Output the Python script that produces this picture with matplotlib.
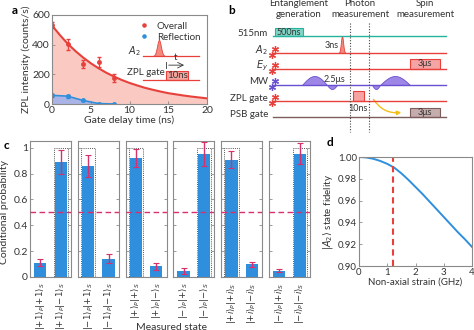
import numpy as np
import matplotlib
matplotlib.use("Agg")
import matplotlib.pyplot as plt
from matplotlib.patches import Rectangle, FancyArrowPatch

plt.rcParams["font.family"] = ["Lato", "DejaVu Sans"]
plt.rcParams["mathtext.fontset"] = "dejavusans"

W, H = 474, 330
fig = plt.figure(figsize=(W / 100, H / 100), dpi=100)


def px_axes(x0, y0, x1, y1):
    """Axes placed by pixel box (origin top-left)."""
    return fig.add_axes([x0 / W, 1 - y1 / H, (x1 - x0) / W, (y1 - y0) / H])


GRAY = "#8a8a8a"
RED = "#e8413c"
BLUE = "#2f8fdc"
TEAL = "#26b39b"
PURPLE = "#6a4fd0"
BROWN = "#7d5c5c"
MAGENTA = "#d8306e"
TXT = "#333333"

# ---------------- panel a data ----------------
delay = [0, 2, 4, 6, 8]
overall = [533, 402, 270, 283, 175]
overall_err = [22, 38, 30, 32, 25]
reflection = [58, 53, 24, 3, 0]
reflection_err = [10, 10, 6, 4, 3]
fit_time = list(range(0, 21))
fit_overall = [530, 466, 408, 358, 314, 275, 241, 211, 185, 162, 142,
               125, 109, 96, 84, 73, 65, 57, 50, 44, 38]

# ---------------- panel c data ----------------
state_labels = [
    [r"$|{+1}\rangle_P|{+1}\rangle_S$", r"$|{+1}\rangle_P|{-1}\rangle_S$"],
    [r"$|{-1}\rangle_P|{+1}\rangle_S$", r"$|{-1}\rangle_P|{-1}\rangle_S$"],
    [r"$|{+}\rangle_P|{+}\rangle_S$", r"$|{+}\rangle_P|{-}\rangle_S$"],
    [r"$|{-}\rangle_P|{+}\rangle_S$", r"$|{-}\rangle_P|{-}\rangle_S$"],
    [r"$|{+i}\rangle_P|{+i}\rangle_S$", r"$|{+i}\rangle_P|{-i}\rangle_S$"],
    [r"$|{-i}\rangle_P|{+i}\rangle_S$", r"$|{-i}\rangle_P|{-i}\rangle_S$"],
]
cond_prob = [[0.11, 0.89], [0.858, 0.142], [0.918, 0.083],
             [0.047, 0.951], [0.907, 0.098], [0.05, 0.953]]
cond_err = [[0.028, 0.09], [0.088, 0.035], [0.07, 0.026],
            [0.022, 0.09], [0.065, 0.02], [0.012, 0.08]]
ideal_prob = [[0, 1], [1, 0], [1, 0], [0, 1], [1, 0], [0, 1]]

# ---------------- panel d data ----------------
strain = [0, 0.25, 0.5, 0.75, 1.0, 1.25, 1.5, 1.75, 2.0, 2.25, 2.5,
          2.75, 3.0, 3.25, 3.5, 3.75, 4.0]
fidelity = [1.0, 0.9996, 0.9984, 0.9964, 0.9937, 0.9902, 0.985, 0.979,
            0.9725, 0.966, 0.959, 0.952, 0.945, 0.938, 0.931, 0.9245, 0.9175]
strain_marker = 1.2


def style_axes(ax, fs=7):
    for s in ax.spines.values():
        s.set_color(GRAY)
        s.set_linewidth(0.8)
    ax.tick_params(direction="in", length=2.5, width=0.6, colors=GRAY,
                   labelcolor=TXT, labelsize=fs, pad=1.5)


# ================= panel a =================
ax_a = px_axes(52, 15, 207, 104)
ax_a.fill_between(fit_time, fit_overall, 0, color="#f9c9c2", lw=0)
ax_a.fill_between(delay, reflection, 0, color="#aab3e6", lw=0)
ax_a.plot(fit_time, fit_overall, color=RED, lw=1.5)
ax_a.plot(delay, reflection, color=BLUE, lw=1.2)
ax_a.errorbar(delay, overall, yerr=overall_err, fmt="o", ms=2.5,
              color=RED, ecolor=RED, elinewidth=0.9, capsize=1.5,
              label="Overall")
ax_a.errorbar(delay, reflection, yerr=reflection_err, fmt="o", ms=2.5,
              color=BLUE, ecolor=BLUE, elinewidth=0.9, capsize=1.5,
              label="Reflection")
ax_a.set_xlim(0, 20)
ax_a.set_ylim(0, 600)
ax_a.set_xticks([0, 5, 10, 15, 20])
ax_a.set_yticks([0, 200, 400, 600])
style_axes(ax_a, 7.5)
ax_a.set_xlabel("Gate delay time (ns)", fontsize=7.5, color=TXT, labelpad=0)
ax_a.set_ylabel("ZPL intensity (counts/s)", fontsize=7.5, color=TXT,
                labelpad=1)
handles, labels = ax_a.get_legend_handles_labels()
leg = ax_a.legend([h[0] for h in handles], labels, loc="upper right",
                  frameon=False, fontsize=7, handlelength=1.0,
                  handletextpad=0.8, borderaxespad=0.3, labelspacing=0.2,
                  markerscale=0.9)
for t in leg.get_texts():
    t.set_color(TXT)

# pulse-timing inset inside panel a
g_t = np.linspace(12.8, 14.8, 60)
ax_a.plot([11.7, 19.0], [324, 324], color=RED, lw=0.9)
ax_a.fill_between(g_t, 324 + 108 * np.exp(-((g_t - 13.8) / 0.35) ** 2), 324,
                  color="#f28a80", edgecolor=RED, lw=0.6)
ax_a.text(11.4, 360, "$A_2$", fontsize=7, color=TXT, ha="right", va="center")
ax_a.plot([11.7, 19.0], [162, 162], color=RED, lw=0.9)
ax_a.add_patch(Rectangle((14.7, 162), 2.9, 62, facecolor="#f4a49c",
                         edgecolor=RED, lw=0.8))
ax_a.text(14.8, 190, "10ns", fontsize=7, color=TXT, ha="left", va="center")
ax_a.text(14.5, 213, "ZPL gate", fontsize=7, color=TXT, ha="right",
          va="center")
ax_a.annotate("", xy=(17.4, 262), xytext=(14.7, 262),
              arrowprops=dict(arrowstyle="->", color=TXT, lw=0.6))
ax_a.plot([14.7, 14.7], [240, 280], color=TXT, lw=0.6)
ax_a.text(15.9, 282, "t", fontsize=7, color=TXT, ha="center", va="bottom")

# ================= panel b =================
ax_b = px_axes(228, 0, 474, 135)
ax_b.set_xlim(228, 474)
ax_b.set_ylim(135, 0)
ax_b.axis("off")

row_names = ["515nm", "$A_2$", "$E_y$", "MW", "ZPL gate", "PSB gate"]
row_y = [36, 53, 69, 85, 101, 117]
row_col = [TEAL, RED, RED, PURPLE, RED, BROWN]
for name, y, c in zip(row_names, row_y, row_col):
    ax_b.plot([273, 446], [y, y], color=c, lw=1.0)
    ax_b.text(268, y - 3, name, fontsize=7, color=TXT, ha="right",
              va="center")
# excitation stars
for y, c in zip(row_y[1:5], row_col[1:5]):
    ax_b.plot([275, 272], [y - 4, y + 2], ls="none", marker=(6, 2, 0),
              ms=5, mew=0.9, color=c)

ax_b.text(299, 9, "Entanglement\ngeneration", fontsize=7, color=TXT,
          ha="center", va="center", linespacing=1.2)
ax_b.text(360, 9, "Photon\nmeasurement", fontsize=7, color=TXT,
          ha="center", va="center", linespacing=1.2)
ax_b.text(425, 9, "Spin\nmeasurement", fontsize=7, color=TXT,
          ha="center", va="center", linespacing=1.2)
for xv in (350, 369):
    ax_b.plot([xv, xv], [23, 132], color="#444444", lw=0.8, ls=(0, (1, 1.5)))

# 515 nm pulse
ax_b.add_patch(Rectangle((275, 28), 28, 8, facecolor="#7fd6c6",
                         edgecolor=TEAL, lw=0.8))
ax_b.text(289, 32.5, "500ns", fontsize=6.5, color=TXT, ha="center",
          va="center")
# A2 optical pi pulse
gx = np.linspace(337, 347, 50)
ax_b.fill_between(gx, 53 - 17 * np.exp(-((gx - 342) / 1.6) ** 2), 53,
                  color="#f28a80", edgecolor=RED, lw=0.6)
ax_b.text(332, 46, "3ns", fontsize=6.5, color=TXT, ha="center", va="center")
# Ey readout
ax_b.add_patch(Rectangle((410, 59), 30, 10, facecolor="#f6a3a3",
                         edgecolor=RED, lw=0.8))
ax_b.text(425, 64, "3μs", fontsize=6.5, color=TXT, ha="center", va="center")
# MW pulses
m1 = np.linspace(302, 327, 60)
m2 = np.linspace(327, 337, 30)
m3 = np.linspace(372, 380, 30)
m4 = np.linspace(380, 410, 60)
for xs, x0, x1, amp in ((m1, 302, 327, -9), (m2, 327, 337, 4),
                        (m3, 372, 380, 4), (m4, 380, 410, -9)):
    ys = 85 + amp * np.sin(np.pi * (xs - x0) / (x1 - x0))
    ax_b.fill_between(xs, ys, 85, color="#9d86e6", edgecolor=PURPLE, lw=0.6)
ax_b.text(334, 80, "2.5μs", fontsize=6.5, color=TXT, ha="center",
          va="center")
# ZPL gate
ax_b.add_patch(Rectangle((353, 91), 11, 10, facecolor="#f6a3a3",
                         edgecolor=RED, lw=0.8))
ax_b.text(358, 108, "10ns", fontsize=6.5, color=TXT, ha="center",
          va="center")
# feed-forward arrow
ax_b.add_patch(FancyArrowPatch((372, 97), (404, 112),
                               connectionstyle="arc3,rad=0.35",
                               arrowstyle="-|>", mutation_scale=6,
                               color="#f2bf1a", lw=1.0))
# PSB gate
ax_b.add_patch(Rectangle((410, 108), 30, 9, facecolor="#c6adad",
                         edgecolor=BROWN, lw=0.8))
ax_b.text(425, 112.5, "3μs", fontsize=6.5, color=TXT, ha="center",
          va="center")

# ================= panel c =================
ax_c = []
for i in range(6):
    x0 = 30 + i * 47.8
    ax = px_axes(x0, 141, x0 + 41, 277)
    pos = [0, 1]
    ax.bar(pos, ideal_prob[i], width=0.7, fill=False, edgecolor="#555555",
           lw=0.7, ls=(0, (1, 1.2)), zorder=3)
    ax.bar(pos, cond_prob[i], width=0.6, color=BLUE, zorder=2)
    ax.axhline(0.5, color=MAGENTA, lw=1.0, ls=(0, (4, 2.5)), zorder=4)
    ax.errorbar(pos, cond_prob[i], yerr=cond_err[i], fmt="none",
                ecolor=MAGENTA, elinewidth=1.0, capsize=2, capthick=0.8,
                zorder=5)
    ax.set_xlim(-0.5, 1.5)
    ax.set_ylim(0, 1.052)
    ax.set_yticks([0, 0.2, 0.4, 0.6, 0.8, 1.0])
    ax.set_xticks(pos)
    ax.set_xticklabels(state_labels[i], rotation=90, color=TXT)
    style_axes(ax, 7.5)
    ax.tick_params(axis="x", length=0, pad=4, labelsize=6.2)
    ax.tick_params(axis="y", right=True)
    if i == 0:
        ax.set_yticklabels(["0", "0.2", "0.4", "0.6", "0.8", "1"])
    else:
        ax.set_yticklabels([])
    ax_c.append(ax)
fig.text(5 / W, 1 - 212 / H, "Conditional probability", rotation=90,
         fontsize=7.5, color=TXT, ha="center", va="center")
fig.text(172 / W, 1 - 327 / H, "Measured state", fontsize=7.5, color=TXT,
         ha="center", va="center")

# ================= panel d =================
ax_d = px_axes(359, 157, 472, 266)
ax_d.plot(strain, fidelity, color=BLUE, lw=1.4)
ax_d.plot([strain_marker, strain_marker], [0.90, 1.0], color=RED, lw=1.5,
          ls=(0, (3, 2)))
ax_d.set_xlim(0, 4)
ax_d.set_ylim(0.90, 1.00)
ax_d.set_xticks([0, 1, 2, 3, 4])
ax_d.set_yticks([0.90, 0.92, 0.94, 0.96, 0.98, 1.00])
ax_d.set_yticklabels(["0.90", "0.92", "0.94", "0.96", "0.98", "1.00"])
style_axes(ax_d, 7)
ax_d.set_xlabel("Non-axial strain (GHz)", fontsize=7, color=TXT, labelpad=0)
ax_d.set_ylabel(r"$|A_2\rangle$ state fidelity", fontsize=7, color=TXT,
                labelpad=2)

# panel letters
for lab, (px, py) in zip("abcd", [(15, 11), (232, 11), (6, 145), (330, 143)]):
    fig.text(px / W, 1 - py / H, lab, fontsize=8.5, fontweight="bold",
             ha="center", va="center")

fig.savefig("out.png", dpi=100)
